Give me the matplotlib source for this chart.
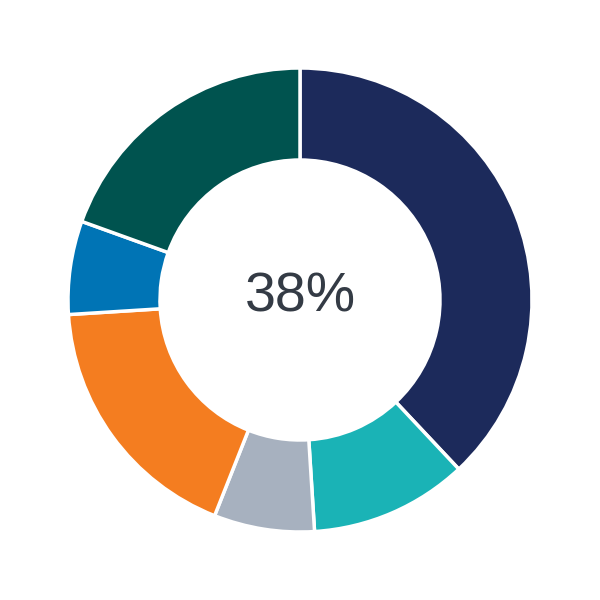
import matplotlib
matplotlib.use("Agg")
import matplotlib.pyplot as plt

labels = ["Navy", "Teal", "Gray", "Orange", "Blue", "Dark green"]
values = [38, 11, 7, 18, 6.5, 19.5]
colors = ["#1c2a5b", "#1ab3b6", "#a7b1bf", "#f47d20", "#0074b5", "#00534f"]
center_label = "38%"

fig = plt.figure(figsize=(6, 6), dpi=100)
ax = fig.add_axes([0, 0, 1, 1])
R = 232 / 300
ax.pie(values, colors=colors, startangle=90, counterclock=False, radius=R,
       wedgeprops=dict(width=R * (92 / 232), edgecolor="white", linewidth=2.5))
ax.text(0, 0.01, center_label, ha="center", va="center", fontsize=40,
        color="#343b45", family=["Liberation Sans", "DejaVu Sans"])
ax.set_xlim(-1, 1)
ax.set_ylim(-1, 1)
ax.set_aspect("equal")
ax.axis("off")
fig.savefig("out.png", dpi=100, facecolor="white")
